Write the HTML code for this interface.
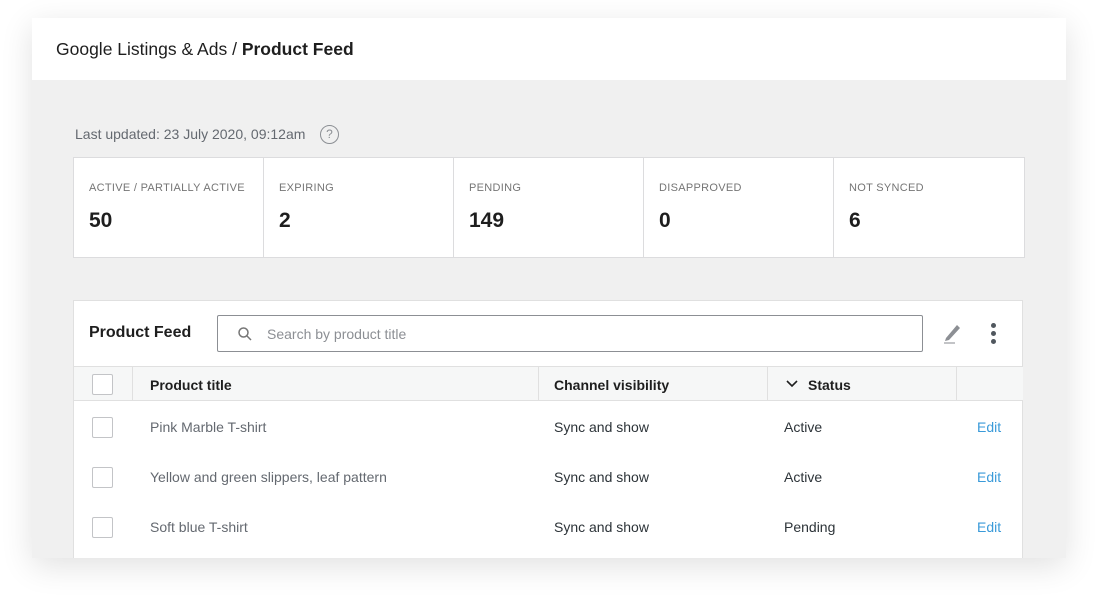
<!DOCTYPE html>
<html><head><style>
*{margin:0;padding:0;box-sizing:border-box}
body{width:1098px;height:608px;background:#fff;font-family:"Liberation Sans",sans-serif;position:relative;overflow:hidden}
.a{position:absolute}
.frame{left:32px;top:18px;width:1034px;height:540px;background:#f0f0f0;box-shadow:0 8px 30px rgba(0,0,0,0.12);overflow:hidden}
.hdr{left:0;top:0;width:1034px;height:62px;background:#fff}
.lbl{font-size:11px;color:#757575;letter-spacing:.3px}
.num{font-size:21px;font-weight:bold;color:#1e1e1e}
.cb{width:21px;height:21px;border:1px solid #c3c4c7;border-radius:2px;background:#fff}
.t{font-size:14px;color:#2c3338}
.g{color:#646970}
.e{font-size:14px;color:#3a9ad9}
</style></head><body>
<div class="a frame">
 <div class="a hdr"><div class="a" style="left:24px;top:21px;font-size:17.5px;color:#1e1e1e">Google Listings &amp; Ads / <b>Product Feed</b></div></div>
 <div class="a" style="left:43px;top:108px;font-size:14px;color:#646970">Last updated: 23 July 2020, 09:12am</div>
 <div class="a" style="left:288px;top:107px;width:19px;height:19px;border:1.5px solid #8c8f94;border-radius:50%;font-size:12px;color:#8c8f94;text-align:center;line-height:16px">?</div>
 <div class="a" style="left:41px;top:139px;width:952px;height:101px;background:#fff;border:1px solid #dcdcde"></div>
 <div class="a" style="left:231px;top:140px;width:1px;height:99px;background:#dcdcde"></div>
 <div class="a" style="left:421px;top:140px;width:1px;height:99px;background:#dcdcde"></div>
 <div class="a" style="left:611px;top:140px;width:1px;height:99px;background:#dcdcde"></div>
 <div class="a" style="left:801px;top:140px;width:1px;height:99px;background:#dcdcde"></div>
 <div class="a lbl" style="left:57px;top:164px">ACTIVE / PARTIALLY ACTIVE</div><div class="a num" style="left:57px;top:191px">50</div>
 <div class="a lbl" style="left:247px;top:164px">EXPIRING</div><div class="a num" style="left:247px;top:191px">2</div>
 <div class="a lbl" style="left:437px;top:164px">PENDING</div><div class="a num" style="left:437px;top:191px">149</div>
 <div class="a lbl" style="left:627px;top:164px">DISAPPROVED</div><div class="a num" style="left:627px;top:191px">0</div>
 <div class="a lbl" style="left:817px;top:164px">NOT SYNCED</div><div class="a num" style="left:817px;top:191px">6</div>

 <div class="a" style="left:41px;top:282px;width:950px;height:260px;background:#fff;border:1px solid #e0e0e0"></div>
 <div class="a" style="left:57px;top:306px;font-size:16px;font-weight:bold;color:#1e1e1e">Product Feed</div>
 <div class="a" style="left:185px;top:297px;width:706px;height:37px;border:1px solid #8c8f94;border-radius:2px;background:#fff"></div>
 <svg class="a" style="left:206px;top:309px" width="14" height="14"><circle cx="5.5" cy="5.5" r="4.5" fill="none" stroke="#757575" stroke-width="1.5"/><line x1="9" y1="9" x2="13" y2="13" stroke="#757575" stroke-width="1.5"/></svg>
 <div class="a" style="left:235px;top:308px;font-size:14px;color:#8c8f94">Search by product title</div>
 <svg class="a" style="left:910px;top:303px" width="22" height="24"><path d="M4 17 L15 4 L18 7 L7 19 L3 20 Z" fill="#8c8f94"/><rect x="2" y="21" width="11" height="2" fill="#c3c4c7"/></svg>
 <div class="a" style="left:959px;top:305px;width:5px;height:5px;border-radius:50%;background:#50575e;box-shadow:0 8px 0 #50575e,0 16px 0 #50575e"></div>

 <div class="a" style="left:42px;top:348px;width:949px;height:35px;background:#f6f7f7;border-top:1px solid #e0e0e0;border-bottom:1px solid #e0e0e0"></div>
 <div class="a" style="left:100px;top:348px;width:1px;height:35px;background:#e0e0e0"></div>
 <div class="a" style="left:506px;top:348px;width:1px;height:35px;background:#e0e0e0"></div>
 <div class="a" style="left:735px;top:348px;width:1px;height:35px;background:#e0e0e0"></div>
 <div class="a" style="left:924px;top:348px;width:1px;height:35px;background:#e0e0e0"></div>
 <div class="a cb" style="left:60px;top:356px"></div>
 <div class="a t" style="left:118px;top:359px;font-weight:bold;color:#1e1e1e">Product title</div>
 <div class="a t" style="left:522px;top:359px;font-weight:bold;color:#1e1e1e">Channel visibility</div>
 <svg class="a" style="left:754px;top:362px" width="12" height="8"><path d="M1 1 L6 6 L11 1" fill="none" stroke="#1e1e1e" stroke-width="1.6"/></svg>
 <div class="a t" style="left:776px;top:359px;font-weight:bold;color:#1e1e1e">Status</div>

 <div class="a cb" style="left:60px;top:399px"></div>
 <div class="a t g" style="left:118px;top:401px">Pink Marble T-shirt</div>
 <div class="a t" style="left:522px;top:401px">Sync and show</div>
 <div class="a t" style="left:752px;top:401px">Active</div>
 <div class="a e" style="left:945px;top:401px">Edit</div>

 <div class="a cb" style="left:60px;top:449px"></div>
 <div class="a t g" style="left:118px;top:451px">Yellow and green slippers, leaf pattern</div>
 <div class="a t" style="left:522px;top:451px">Sync and show</div>
 <div class="a t" style="left:752px;top:451px">Active</div>
 <div class="a e" style="left:945px;top:451px">Edit</div>

 <div class="a cb" style="left:60px;top:499px"></div>
 <div class="a t g" style="left:118px;top:501px">Soft blue T-shirt</div>
 <div class="a t" style="left:522px;top:501px">Sync and show</div>
 <div class="a t" style="left:752px;top:501px">Pending</div>
 <div class="a e" style="left:945px;top:501px">Edit</div>
</div>
</body></html>
